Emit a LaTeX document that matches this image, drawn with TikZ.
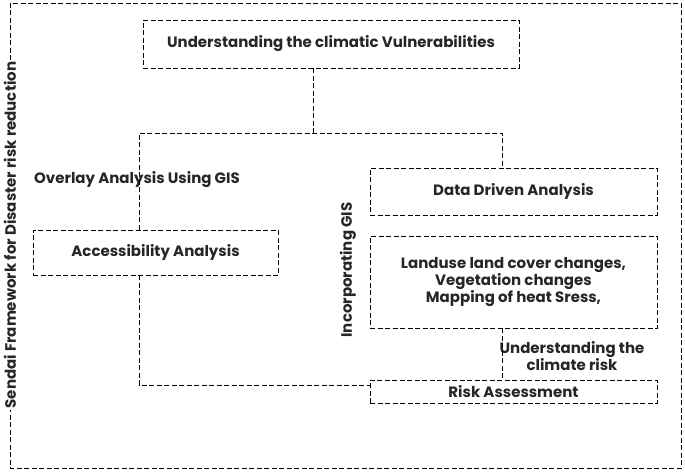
\documentclass[tikz,border=0pt]{standalone}
\usepackage{fontspec}
\setmainfont{Poppins}
\begin{document}
\begin{tikzpicture}[x=1pt,y=-1pt,
  bx/.style={draw,thick,dash pattern=on 5pt off 2.5pt},
  ln/.style={draw,thick,dash pattern=on 5pt off 2.5pt},
  tx/.style={font=\fontsize{15}{17}\selectfont\bfseries,text=black!85}]
\useasboundingbox (0,0) rectangle (685,472);
\draw[ln] (10,60) -- (10,3) -- (681,3) -- (681,468) -- (10,468) -- (10,410);
\node[tx,rotate=90,fill=white,inner sep=2pt] (sendai) at (10,235) {Sendai Framework for Disaster risk reduction};
\node[bx,minimum width=376pt,minimum height=48pt,tx] (top) at (331,44) {Understanding the climatic Vulnerabilities};
\node[bx,minimum width=245pt,minimum height=45pt,tx] (acc) at (155.5,252.5) {Accessibility Analysis};
\node[bx,minimum width=287pt,minimum height=47pt,tx] (data) at (513.5,191.5) {Data Driven Analysis};
\node[bx,minimum width=287pt,minimum height=92pt,tx,align=center] (land) at (513.5,282) {Landuse land cover changes,\\Vegetation changes\\Mapping of heat Sress,};
\node[bx,minimum width=287pt,minimum height=23pt,tx,inner sep=1pt] (risk) at (513.5,391.5) {Risk Assessment};
\node[tx] (overlay) at (137,180) {Overlay Analysis Using GIS};
\node[tx,rotate=90] (incorp) at (348,270) {Incorporating GIS};
\node[tx,align=center] (ucr) at (572,356) {Understanding the\\climate risk};
\coordinate (j) at (313,133);
\draw[ln] (top.south -| j) -- (j);
\draw[ln] (acc.north -| 139,0) -- (139,133) -- (502,133) -- (data.north -| 502,0);
\draw[ln] (land.south -| 502,0) -- (risk.north -| 502,0);
\draw[ln] (acc.south -| 139,0) -- (139,385) -- (risk.west |- 0,385);
\end{tikzpicture}
\end{document}
